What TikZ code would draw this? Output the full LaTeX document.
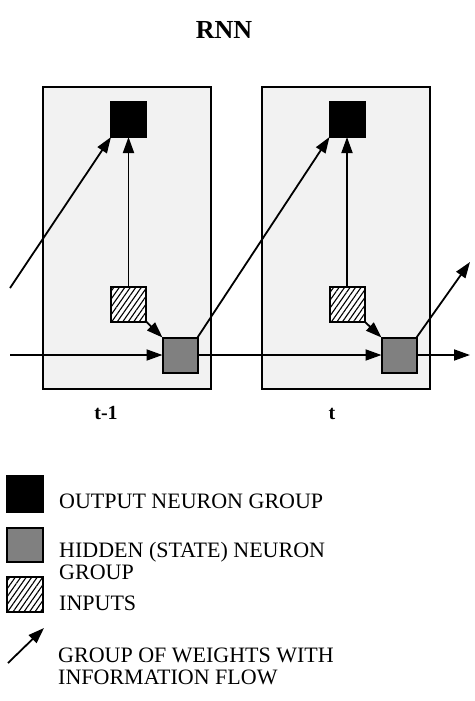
\documentclass[tikz,border=0pt]{standalone}
\usepackage{fontspec}
\setmainfont{Liberation Serif}
\usetikzlibrary{arrows.meta,patterns.meta}
\begin{document}
\begin{tikzpicture}[x=1pt,y=-1pt,
  frame/.style={draw, line width=2pt, fill=black!5},
  sq/.style={draw, line width=2pt, minimum width=35pt, minimum height=35pt, inner sep=0pt, outer sep=0pt},
  outsq/.style={sq, fill=black},
  hidsq/.style={sq, fill=black!50},
  insq/.style={sq, fill=white, postaction={pattern={Lines[angle=55,distance=4.5pt,line width=1.1pt]}, pattern color=black}},
  arr/.style={-{Triangle[length=16pt,width=11pt]}, line width=1.8pt},
  leg/.style={anchor=base west, font=\fontsize{22}{22}\selectfont, align=left, inner sep=0pt},
  lab/.style={font=\fontsize{20}{20}\selectfont\bfseries, inner sep=0pt}]
\useasboundingbox (0,0) rectangle (474,701);
% title
\node[font=\fontsize{26}{26}\selectfont\bfseries, anchor=base, inner sep=0pt] (title) at (224,38) {RNN};
% frames
\draw[frame] (43,87) rectangle (211,389);
\draw[frame] (262,87) rectangle (430,389);
% neuron groups
\node[outsq] (o1) at (128.5,119.5) {};
\node[insq]  (i1) at (128.5,304) {};
\node[hidsq] (h1) at (180,355) {};
\node[outsq] (o2) at (347,119.5) {};
\node[insq]  (i2) at (347,304) {};
\node[hidsq] (h2) at (399,355) {};
% free ends
\coordinate (a1) at (10,288);
\coordinate (a2) at (10,355);
\coordinate (e1) at (470,262);
\coordinate (e2) at (470,355);
% connectors
\draw[arr] (a1) -- (o1.south west);
\draw[arr] (a2) -- (h1.west);
\draw[arr] (i1.north) -- (o1.south);
\draw[arr] (i1.south east) -- (h1.north west);
\draw[arr] (h1.east) -- (h2.west);
\draw[arr] (h1.north east) -- (o2.south west);
\draw[arr] (i2.north) -- (o2.south);
\draw[arr] (i2.south east) -- (h2.north west);
\draw[arr] (h2.north east) -- (e1);
\draw[arr] (h2.east) -- (e2);
% time labels
\node[lab, anchor=base] (t1) at (106,419) {t-1};
\node[lab, anchor=base] (t2) at (332,419) {t};
% legend
\node[outsq, minimum width=36pt, minimum height=36pt] (lo) at (25,494) {};
\node[hidsq, minimum width=36pt, minimum height=34pt] (lh) at (25,545) {};
\node[insq, minimum width=36pt, minimum height=35pt] (li) at (25,594.5) {};
\coordinate (la) at (8,663);
\coordinate (lb) at (44,628);
\draw[arr] (la) -- (lb);
\node[leg] (to) at (59,508) {OUTPUT NEURON GROUP};
\node[leg] (th1) at (59,557) {HIDDEN (STATE) NEURON};
\node[leg] (th2) at (59,579) {GROUP};
\node[leg] (ti) at (59,610) {INPUTS};
\node[leg] (tw1) at (58,662) {GROUP OF WEIGHTS WITH};
\node[leg] (tw2) at (58,684) {INFORMATION FLOW};
\end{tikzpicture}
\end{document}
